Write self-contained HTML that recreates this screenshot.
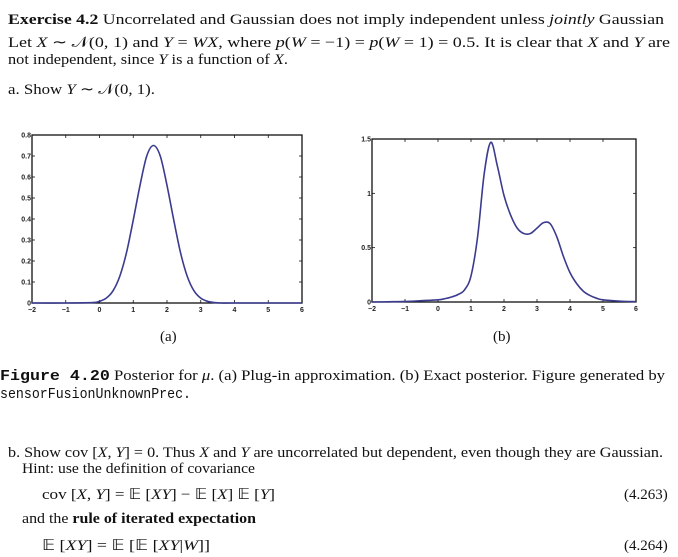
<!DOCTYPE html>
<html><head><meta charset="utf-8"><style>
html,body{margin:0;padding:0;background:#fff;}
svg{display:block;font-family:"Liberation Serif",serif;}
.t{font-size:15px;fill:#111;}
.tk{font-family:"Liberation Sans",sans-serif;font-size:7px;font-weight:bold;fill:#222;}
.m{font-family:"Liberation Mono",monospace;}
</style></head><body>
<svg id="root" width="678" height="557" viewBox="0 0 678 557">
<text class="t" x="8" y="24" textLength="656" lengthAdjust="spacingAndGlyphs"><tspan font-weight="bold">Exercise 4.2</tspan> Uncorrelated and Gaussian does not imply independent unless <tspan font-style="italic">jointly</tspan> Gaussian</text>
<text class="t" x="8" y="47" textLength="662" lengthAdjust="spacingAndGlyphs">Let <tspan font-style="italic">X</tspan> ∼ 𝒩(0, 1) and <tspan font-style="italic">Y</tspan> = <tspan font-style="italic">WX</tspan>, where <tspan font-style="italic">p</tspan>(<tspan font-style="italic">W</tspan> = −1) = <tspan font-style="italic">p</tspan>(<tspan font-style="italic">W</tspan> = 1) = 0.5. It is clear that <tspan font-style="italic">X</tspan> and <tspan font-style="italic">Y</tspan> are</text>
<text class="t" x="8" y="64" textLength="280" lengthAdjust="spacingAndGlyphs">not independent, since <tspan font-style="italic">Y</tspan> is a function of <tspan font-style="italic">X</tspan>.</text>
<text class="t" x="8" y="94" textLength="147" lengthAdjust="spacingAndGlyphs">a. Show <tspan font-style="italic">Y</tspan> ∼ 𝒩(0, 1).</text>

<g id="plotA"></g>
<g id="plotB"></g>
<text class="t" x="160" y="341" font-size="12">(a)</text>
<text class="t" x="493" y="341" font-size="12">(b)</text>

<text class="t" x="0" y="380" textLength="665" lengthAdjust="spacingAndGlyphs"><tspan font-weight="bold" class="m">Figure 4.20</tspan>  Posterior for <tspan font-style="italic">μ</tspan>.  (a) Plug-in approximation.  (b) Exact posterior.  Figure generated by</text>
<text class="t m" x="0" y="398" font-size="13" textLength="191" lengthAdjust="spacingAndGlyphs">sensorFusionUnknownPrec.</text>

<text class="t" x="8" y="457" textLength="655" lengthAdjust="spacingAndGlyphs">b. Show cov [<tspan font-style="italic">X</tspan>, <tspan font-style="italic">Y</tspan>] = 0. Thus <tspan font-style="italic">X</tspan> and <tspan font-style="italic">Y</tspan> are uncorrelated but dependent, even though they are Gaussian.</text>
<text class="t" x="22" y="473" textLength="233" lengthAdjust="spacingAndGlyphs">Hint: use the definition of covariance</text>
<text class="t" x="42" y="499" textLength="233" lengthAdjust="spacingAndGlyphs">cov [<tspan font-style="italic">X</tspan>, <tspan font-style="italic">Y</tspan>] = 𝔼 [<tspan font-style="italic">XY</tspan>] − 𝔼 [<tspan font-style="italic">X</tspan>] 𝔼 [<tspan font-style="italic">Y</tspan>]</text>
<text class="t" x="624" y="499" font-size="13">(4.263)</text>
<text class="t" x="22" y="523" textLength="234" lengthAdjust="spacingAndGlyphs">and the <tspan font-weight="bold">rule of iterated expectation</tspan></text>
<text class="t" x="42" y="550" textLength="168" lengthAdjust="spacingAndGlyphs">𝔼 [<tspan font-style="italic">XY</tspan>] = 𝔼 [𝔼 [<tspan font-style="italic">XY</tspan>|<tspan font-style="italic">W</tspan>]]</text>
<text class="t" x="624" y="550" font-size="13">(4.264)</text>
</svg>
<script>
const xTicks = [-2,-1,0,1,2,3,4,5,6];
const xTickLabels = ['−2','−1','0','1','2','3','4','5','6'];
const yTicksA = [0,0.1,0.2,0.3,0.4,0.5,0.6,0.7,0.8];
const yTickLabelsA = ['0','0.1','0.2','0.3','0.4','0.5','0.6','0.7','0.8'];
const yTicksB = [0,0.5,1,1.5];
const yTickLabelsB = ['0','0.5','1','1.5'];
const xsA = [-2,-1,-0.2,0,0.2,0.4,0.6,0.8,1.0,1.2,1.4,1.6,1.8,2.0,2.2,2.4,2.6,2.8,3.0,3.2,3.4,3.6,4,6];
const ysA = [0,0,0.002,0.008,0.023,0.058,0.127,0.24,0.395,0.56,0.70,0.75,0.70,0.56,0.395,0.24,0.127,0.058,0.023,0.008,0.002,0,0,0];
const xsB = [-2,-1.5,-1,-0.5,0,0.2,0.4,0.6,0.8,1.0,1.2,1.4,1.6,1.8,2.0,2.2,2.4,2.6,2.8,3.0,3.2,3.4,3.6,3.8,4.0,4.2,4.4,4.6,4.8,5.0,5.5,6];
const ysB = [0,0.002,0.005,0.012,0.02,0.03,0.045,0.068,0.11,0.24,0.6,1.18,1.47,1.25,0.98,0.8,0.68,0.63,0.63,0.68,0.73,0.72,0.6,0.42,0.27,0.17,0.1,0.06,0.035,0.02,0.008,0.003];
const NS='http://www.w3.org/2000/svg';
function mk(tag,attrs,parent){const e=document.createElementNS(NS,tag);for(const k in attrs)e.setAttribute(k,attrs[k]);parent.appendChild(e);return e;}
function smooth(pts){let d='M'+pts[0][0]+','+pts[0][1];for(let i=0;i<pts.length-1;i++){const p0=pts[Math.max(0,i-1)],p1=pts[i],p2=pts[i+1],p3=pts[Math.min(pts.length-1,i+2)];const c1x=p1[0]+(p2[0]-p0[0])/6,c1y=p1[1]+(p2[1]-p0[1])/6,c2x=p2[0]-(p3[0]-p1[0])/6,c2y=p2[1]-(p3[1]-p1[1])/6;d+=' C'+c1x+','+c1y+' '+c2x+','+c2y+' '+p2[0]+','+p2[1];}return d;}
function plot(g,box,ymax,yTicks,yLabels,xs,ys){
  const sx=v=>box.l+(v+2)/8*(box.r-box.l);
  const sy=v=>box.b-v/ymax*(box.b-box.t);
  const ax=mk('rect',{x:box.l,y:box.t,width:box.r-box.l,height:box.b-box.t,fill:'none',stroke:'#111','stroke-width':1.3},g);
  
  
  xTicks.forEach((v,i)=>{
    const x=sx(v);
    mk('line',{x1:x,y1:box.b,x2:x,y2:box.b-3,stroke:'#111','stroke-width':0.8},g);
    mk('line',{x1:x,y1:box.t,x2:x,y2:box.t+3,stroke:'#111','stroke-width':0.8},g);
    const t=mk('text',{x:x,y:box.b+9,class:'tk','text-anchor':'middle'},g);t.textContent=xTickLabels[i];
    
    
  });
  yTicks.forEach((v,i)=>{
    const y=sy(v);
    mk('line',{x1:box.l,y1:y,x2:box.l+3,y2:y,stroke:'#111','stroke-width':0.8},g);
    mk('line',{x1:box.r,y1:y,x2:box.r-3,y2:y,stroke:'#111','stroke-width':0.8},g);
    const t=mk('text',{x:box.l-1,y:y+2.5,class:'tk','text-anchor':'end'},g);t.textContent=yLabels[i];
    
    
  });
  const pts=xs.map((v,i)=>[sx(v),sy(ys[i])]);
  const p=mk('path',{d:smooth(pts),fill:'none',stroke:'#3b3b8f','stroke-width':1.6},g);
  
  
}
plot(document.getElementById('plotA'),{l:32,r:302,t:135,b:303},0.8,yTicksA,yTickLabelsA,xsA,ysA);
plot(document.getElementById('plotB'),{l:372,r:636,t:139,b:302},1.5,yTicksB,yTickLabelsB,xsB,ysB);
</script>
</body></html>
